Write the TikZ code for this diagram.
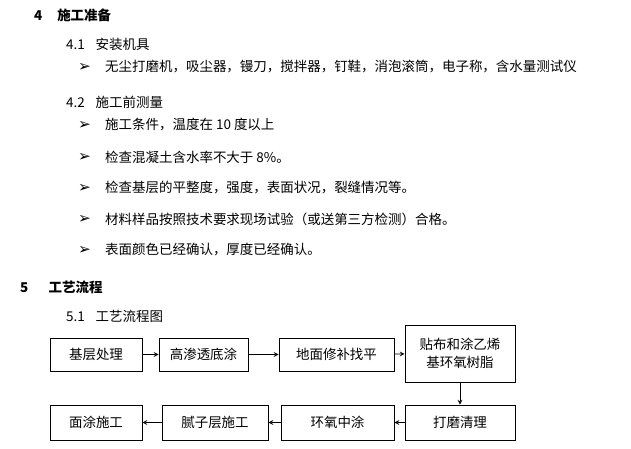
\documentclass[tikz,border=0pt]{standalone}
\usepackage{fontspec}
\setmainfont{Carlito}
\newfontfamily\cjk{Noto Sans CJK SC}
\newfontfamily\dingfont{DejaVu Sans}
\usetikzlibrary{positioning}
\tikzset{
  txt/.style={anchor=west,inner sep=0pt,font=\cjk\fontsize{11.5pt}{14pt}\selectfont},
  head/.style={txt,font=\cjk\bfseries\fontsize{11.5pt}{14pt}\selectfont},
  bullet/.style={anchor=west,inner sep=0pt,font=\dingfont\bfseries\fontsize{13pt}{14pt}\selectfont},
  flowbox/.style={draw,thick,inner sep=0pt,font=\cjk\fontsize{11.5pt}{15pt}\selectfont,align=center},
  flow/.style={->,>=stealth,thick}
}
\begin{document}
\begin{tikzpicture}[x=0.03cm,y=-0.03cm]
    \useasboundingbox (0,0) rectangle (631,449);
    % Section 4
    \node[head] (s4) at (34,15) {4\hspace{1.1em}施工准备};
    \node[txt] (s41) at (66,44) {4.1\hspace{0.8em}安装机具};
    \node[bullet] (b1) at (78,67) {➢};
    \node[txt] (t1) at (105,67) {无尘打磨机，吸尘器，镘刀，搅拌器，钉鞋，消泡滚筒，电子称，含水量测试仪};
    \node[txt] (s42) at (66,102) {4.2\hspace{0.8em}施工前测量};
    \node[bullet] (b2) at (78,125) {➢};
    \node[txt] (t2) at (105,125) {施工条件，温度在 10 度以上};
    \node[bullet] (b3) at (78,157) {➢};
    \node[txt] (t3) at (105,157) {检查混凝土含水率不大于 8\%。};
    \node[bullet] (b4) at (78,188) {➢};
    \node[txt] (t4) at (105,188) {检查基层的平整度，强度，表面状况，裂缝情况等。};
    \node[bullet] (b5) at (78,219) {➢};
    \node[txt] (t5) at (105,219) {材料样品按照技术要求现场试验（或送第三方检测）合格。};
    \node[bullet] (b6) at (78,250) {➢};
    \node[txt] (t6) at (105,250) {表面颜色已经确认，厚度已经确认。};
    % Section 5
    \node[head] (s5) at (20,287) {5\hspace{1.5em}工艺流程};
    \node[txt] (s51) at (66,316) {5.1\hspace{0.8em}工艺流程图};
    % Flow chart
    \node[flowbox,minimum width=92*0.03cm,minimum height=33*0.03cm] (jc) at (96,354.5) {基层处理};
    \node[flowbox,minimum width=89*0.03cm,minimum height=33*0.03cm] (gs) at (203.5,354.5) {高渗透底涂};
    \node[flowbox,minimum width=115*0.03cm,minimum height=33*0.03cm] (dm) at (336.5,354.5) {地面修补找平};
    \node[flowbox,minimum width=110*0.03cm,minimum height=57*0.03cm] (tb) at (460,353.5) {贴布和涂乙烯\\基环氧树脂};
    \node[flowbox,minimum width=110*0.03cm,minimum height=35*0.03cm] (dmq) at (460,422.5) {打磨清理};
    \node[flowbox,minimum width=113*0.03cm,minimum height=35*0.03cm] (hy) at (337.5,422.5) {环氧中涂};
    \node[flowbox,minimum width=106*0.03cm,minimum height=35*0.03cm] (nz) at (215,422.5) {腻子层施工};
    \node[flowbox,minimum width=92*0.03cm,minimum height=35*0.03cm] (mt) at (96,422.5) {面涂施工};
    % Arrows
    \draw[flow] (jc) -- (gs);
    \draw[flow] (gs) -- (dm);
    \draw[flow] (dm) -- (tb);
    \draw[flow] (tb) -- (dmq);
    \draw[flow] (dmq) -- (hy);
    \draw[flow] (hy) -- (nz);
    \draw[flow] (nz) -- (mt);
\end{tikzpicture}
\end{document}
